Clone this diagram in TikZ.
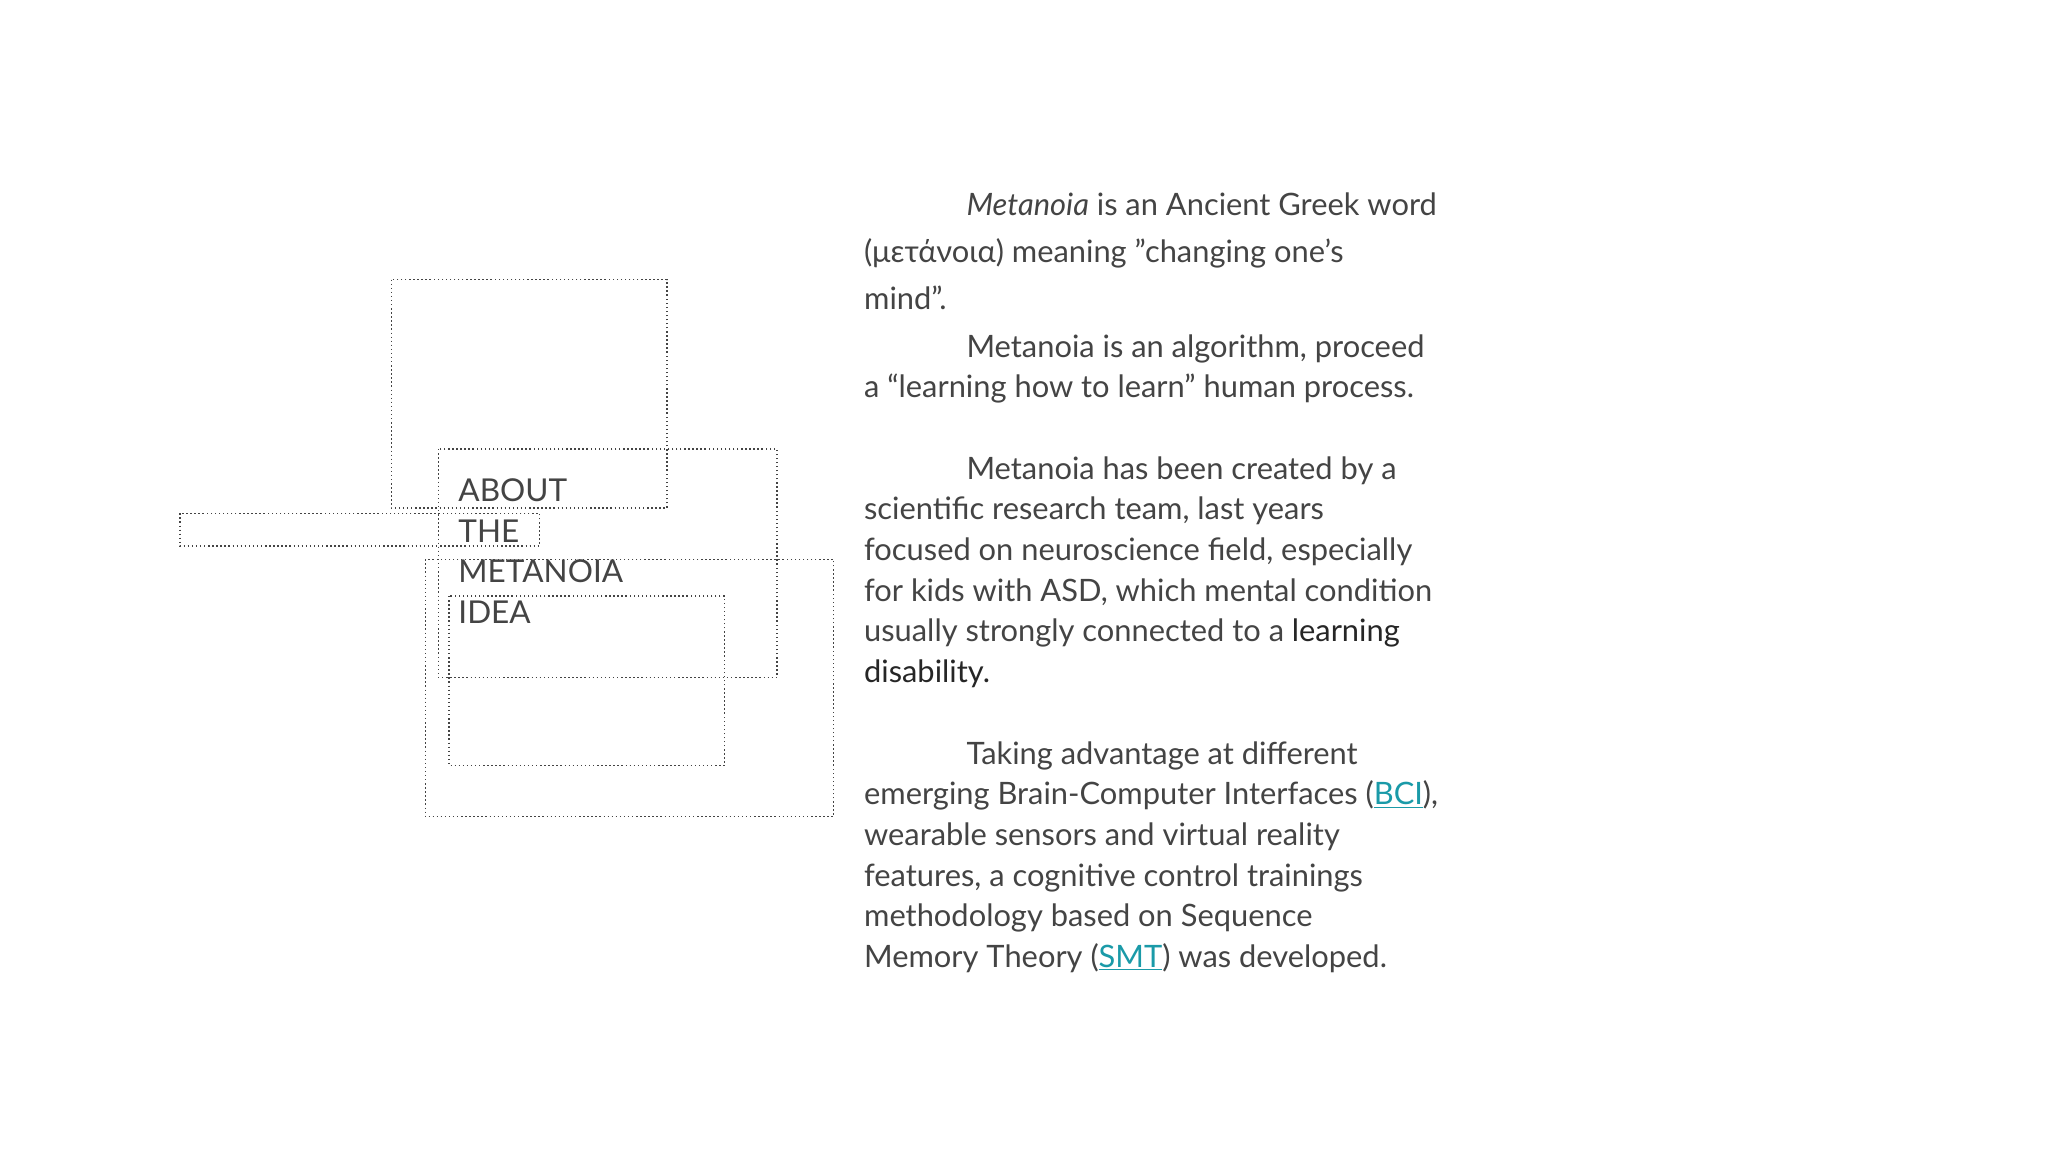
\documentclass[tikz,border=0pt]{standalone}
\usepackage{fontspec}
\setmainfont{Lato}
\definecolor{txt}{HTML}{444444}
\definecolor{lnk}{HTML}{1A9AA8}
\begin{document}
\begin{tikzpicture}[x=1pt,y=-1pt,
  box/.style={draw=txt,dotted,line width=1.1pt},
  ln/.style={anchor=base west,inner sep=0pt,text=txt,font=\fontsize{23.5}{28}\selectfont},
  hd/.style={anchor=base west,inner sep=0pt,text=txt,font=\fontsize{24}{28}\selectfont}]
\useasboundingbox[fill=white] (0,0) rectangle (1560,877.5);
\draw[box] (298,213) rectangle (508,387);
\draw[box] (137,391) rectangle (411,416);
\draw[box] (334,342) rectangle (592,516);
\draw[box] (324,426) rectangle (635,622);
\draw[box] (342,454) rectangle (552,583);
\node[hd] (h1) at (349,382) {ABOUT};
\node[hd] (h2) at (349,413) {THE};
\node[hd] (h3) at (349,444) {METANOIA};
\node[hd] (h4) at (349,475) {IDEA};
\newcommand{\lk}[1]{\textcolor{lnk}{\underline{#1}}}
\node[ln] (a1) at (736,164) {\textit{Metanoia} is an Ancient Greek word};
\node[ln] (a2) at (658,200) {(μετάνοια) meaning "changing one's};
\node[ln] (a3) at (658,236) {mind".};
\node[ln] (b1) at (736,272) {Metanoia is an algorithm, proceed};
\node[ln] (b2) at (658,303) {a “learning how to learn” human process.};
\node[ln] (c1) at (736,365) {Metanoia has been created by a};
\node[ln] (c2) at (658,396) {scientific research team, last years};
\node[ln] (c3) at (658,427) {focused on neuroscience field, especially};
\node[ln] (c4) at (658,458) {for kids with ASD, which mental condition};
\node[ln] (c5) at (658,489) {usually strongly connected to a \textcolor{black!85}{learning}};
\node[ln] (c6) at (658,520) {\textcolor{black!85}{disability.}};
\node[ln] (d1) at (736,582) {Taking advantage at different};
\node[ln] (d2) at (658,613) {emerging Brain-Computer Interfaces (\lk{BCI}),};
\node[ln] (d3) at (658,644) {wearable sensors and virtual reality};
\node[ln] (d4) at (658,675) {features, a cognitive control trainings};
\node[ln] (d5) at (658,706) {methodology based on Sequence};
\node[ln] (d6) at (658,737) {Memory Theory (\lk{SMT}) was developed.};
\end{tikzpicture}
\end{document}
